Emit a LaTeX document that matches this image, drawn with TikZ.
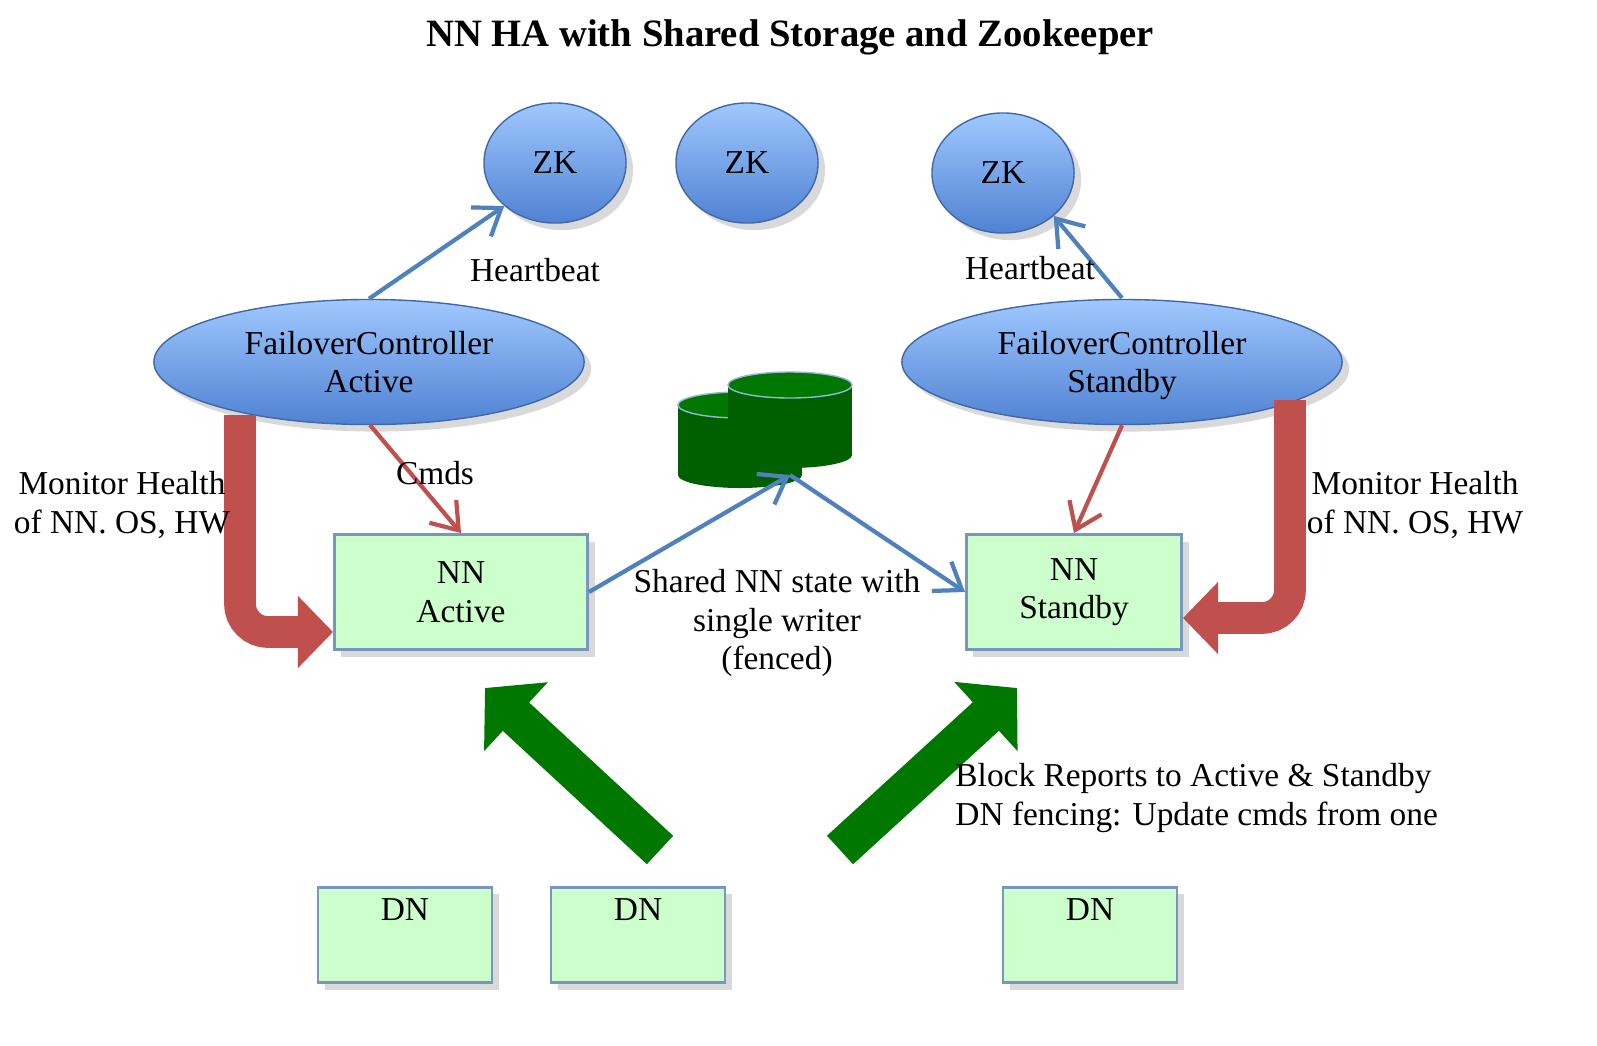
\documentclass[tikz,border=0pt]{standalone}
\usepackage{fontspec}
\setmainfont{Liberation Serif}
\usetikzlibrary{shapes.geometric,arrows.meta,positioning,shadows}
\definecolor{zkblue}{RGB}{80,130,210}
\definecolor{zklight}{RGB}{160,200,255}
\definecolor{nngreen}{RGB}{204,255,204}
\definecolor{boxedge}{RGB}{120,150,190}
\definecolor{dkgreen}{RGB}{0,120,0}
\definecolor{hred}{RGB}{192,80,77}
\definecolor{ablue}{RGB}{79,129,189}
\tikzset{
  shd/.style={drop shadow={shadow xshift=2pt,shadow yshift=-2pt,opacity=0.3}},
  zk/.style={ellipse,draw=zkblue!80!black,top color=zklight,bottom color=zkblue,minimum width=1.42cm,minimum height=1.2cm,shd,font=\fontsize{9.5}{11}\selectfont},
  fc/.style={zk,minimum width=4.3cm,minimum height=1.25cm,align=center,text depth=0pt},
  nn/.style={rectangle,draw=boxedge,thick,fill=nngreen,align=center,shd,font=\fontsize{9.5}{11}\selectfont},
  lbl/.style={font=\fontsize{9.5}{11}\selectfont,align=center},
  thin/.style={-{Straight Barb[length=7pt,width=10pt]},line width=1.2pt},
  fat/.style={line width=9pt,-{Triangle[length=10pt,width=20pt]}},
}
\begin{document}
\begin{tikzpicture}[x=0.01cm,y=-0.01cm]
\useasboundingbox (0,0) rectangle (1597,1045);
% Title
\node[font=\bfseries\fontsize{11}{13}\selectfont] (title) at (790,37) {NN HA with Shared Storage and Zookeeper};
% Zookeepers
\node[zk] (zk1) at (555,163) {ZK};
\node[zk] (zk2) at (747,163) {ZK};
\node[zk] (zk3) at (1003,173) {ZK};
% Failover controllers
\node[fc] (fca) at (369,362) {FailoverController\\Active};
\node[fc,minimum width=4.4cm] (fcs) at (1122,362) {FailoverController\\Standby};
% Name nodes
\node[nn,minimum width=2.53cm,minimum height=1.15cm] (nna) at (461,592) {NN\\Active};
\node[nn,minimum width=2.15cm,minimum height=1.15cm] (nns) at (1074,592) {NN\\Standby};
% Data nodes
\node[nn,minimum width=1.74cm,minimum height=0.94cm,text depth=0.5cm] (dn1) at (405,935) {DN};
\node[nn,minimum width=1.74cm,minimum height=0.94cm,text depth=0.5cm] (dn2) at (638,935) {DN};
\node[nn,minimum width=1.74cm,minimum height=0.94cm,text depth=0.5cm] (dn3) at (1090,935) {DN};
% Shared storage
\foreach \cx/\cy [count=\i] in {740/405,790/385}{
  \fill[dkgreen!80!black] (\cx-62,\cy) rectangle (\cx+62,\cy+70);
  \fill[dkgreen!80!black] (\cx,\cy+70) ellipse (62 and 13);
  \draw[ablue!60,fill=dkgreen] (\cx,\cy) ellipse (62 and 13);
}
\coordinate (st) at (790,475);
% Heartbeats
\draw[thin,ablue] (fca.north) -- (zk1.south west);
\draw[thin,ablue] (1122,298) -- (zk3.south east);
\node[lbl] (hb1) at (535,270) {Heartbeat};
\node[lbl] (hb2) at (1030,268) {Heartbeat};
% Commands
\draw[thin,hred] (370,425) -- (nna.north);
\draw[thin,hred] (fcs.south) -- (nns.north);
\node[lbl] (cmds) at (435,473) {Cmds};
% Shared state
\draw[thin,ablue] (nna.east) -- (st);
\draw[thin,ablue] (st) -- (nns.west);
\node[lbl] (sh) at (777,623) {Shared NN state with\\single writer\\(fenced)};
% Monitor health
\draw[fat,hred,rounded corners=8pt] (240,415) -- (240,632) -- (nna.west|-0,632);
\draw[fat,hred,rounded corners=8pt] (1290,400) -- (1290,618) -- (nns.east|-0,618);
\node[lbl] (mh1) at (122,505) {Monitor Health\\of NN. OS, HW};
\node[lbl] (mh2) at (1415,505) {Monitor Health\\of NN. OS, HW};
% Block reports
\draw[fat,dkgreen,line width=11pt,-{Triangle[length=12pt,width=26pt]}] (660,850) -- (485,688);
\draw[fat,dkgreen,line width=11pt,-{Triangle[length=12pt,width=26pt]}] (840,850) -- (1017,688);
\node[lbl,align=left,anchor=west] (br) at (943,798) {Block Reports to Active \& Standby\\DN fencing: Update cmds from one};
\end{tikzpicture}
\end{document}
